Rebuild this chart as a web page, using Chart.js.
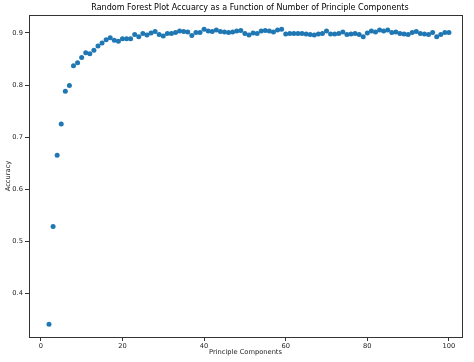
<!DOCTYPE html>
<html><head><meta charset="utf-8">
<script src="https://cdn.jsdelivr.net/npm/chart.js@4"></script>
<style>html,body{margin:0;padding:0;background:#fff;}canvas{display:block;}</style>
</head><body>
<canvas id="c" width="474" height="362"></canvas>
<script>
const components = [2,3,4,5,6,7,8,9,10,11,12,13,14,15,16,17,18,19,20,21,22,23,24,25,26,27,28,29,30,
  31,32,33,34,35,36,37,38,39,40,41,42,43,44,45,46,47,48,49,50,51,52,53,54,55,56,57,58,59,60,
  61,62,63,64,65,66,67,68,69,70,71,72,73,74,75,76,77,78,79,80,81,82,83,84,85,86,87,88,89,90,
  91,92,93,94,95,96,97,98,99,100];
const accuracy = [0.340,0.528,0.665,0.725,0.788,0.799,0.837,0.843,0.853,0.862,0.860,0.867,0.875,0.881,
  0.887,0.891,0.886,0.884,0.889,0.889,0.889,0.897,0.893,0.899,0.896,0.900,0.903,0.897,0.894,
  0.899,0.899,0.901,0.904,0.903,0.902,0.895,0.901,0.901,0.907,0.904,0.903,0.906,0.903,0.902,
  0.901,0.902,0.904,0.905,0.899,0.896,0.900,0.899,0.904,0.905,0.904,0.902,0.906,0.907,0.898,
  0.899,0.899,0.899,0.899,0.898,0.897,0.896,0.898,0.899,0.904,0.898,0.898,0.899,0.902,0.897,
  0.898,0.899,0.897,0.893,0.900,0.904,0.902,0.906,0.904,0.906,0.901,0.902,0.899,0.898,0.897,
  0.901,0.903,0.899,0.898,0.897,0.901,0.893,0.897,0.901,0.901];
const xTicks = [0,20,40,60,80,100];
const yTicks = [0.4,0.5,0.6,0.7,0.8,0.9];
const titleText = 'Random Forest Plot Accuarcy as a Function of Number of Principle Components';
const xLabel = 'Principle Components';
const yLabel = 'Accuracy';

const points = components.map((c, i) => ({x: c, y: accuracy[i]}));
const FONT = 'DejaVu Sans';
const frame = {
  id: 'frame',
  afterDraw(chart) {
    const {ctx, chartArea: a} = chart;
    ctx.save();
    ctx.strokeStyle = '#333';
    ctx.lineWidth = 1;
    ctx.strokeRect(Math.round(a.left) + 0.5, Math.round(a.top) + 0.5,
      Math.round(a.right - a.left), Math.round(a.bottom - a.top));
    ctx.fillStyle = '#000';
    ctx.font = '8px "' + FONT + '"';
    ctx.textAlign = 'center';
    ctx.textBaseline = 'middle';
    ctx.fillText(titleText, 250, 8);
    ctx.restore();
  }
};

new Chart(document.getElementById('c'), {
  type: 'scatter',
  data: { datasets: [{ data: points, backgroundColor: '#1f77b4', borderWidth: 0, pointRadius: 2.5, pointHoverRadius: 2.5 }] },
  options: {
    responsive: false, animation: false,
    layout: { padding: { left: 0, right: 12, top: 15, bottom: 0 } },
    plugins: { legend: { display: false }, tooltip: { enabled: false }, title: { display: false } },
    scales: {
      x: {
        type: 'linear', min: -2.9, max: 103.2,
        afterBuildTicks: s => { s.ticks = xTicks.map(v => ({ value: v })); },
        afterFit: s => { s.height = 25; },
        ticks: { color: '#222', font: { family: FONT, size: 6.7 }, padding: 1, maxRotation: 0, autoSkip: false },
        grid: { drawOnChartArea: false, drawTicks: true, tickLength: 4, color: '#333' },
        border: { display: false },
        title: { display: true, text: xLabel, color: '#222', font: { family: FONT, size: 6.7 }, padding: { top: 0, bottom: 5.5 } }
      },
      y: {
        type: 'linear', min: 0.3155, max: 0.9346,
        afterBuildTicks: s => { s.ticks = yTicks.map(v => ({ value: v })); },
        afterFit: s => { s.width = 29; },
        ticks: { color: '#222', font: { family: FONT, size: 6.7 }, padding: 2, autoSkip: false, callback: v => v.toFixed(1) },
        grid: { drawOnChartArea: false, drawTicks: true, tickLength: 4, color: '#333' },
        border: { display: false },
        title: { display: true, text: yLabel, color: '#222', font: { family: FONT, size: 6.7 }, padding: { top: 4, bottom: 0 } }
      }
    }
  },
  plugins: [frame]
});
</script>
</body></html>
